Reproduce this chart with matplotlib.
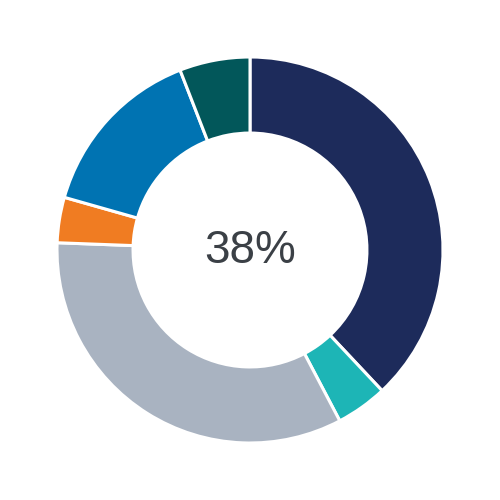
import matplotlib
matplotlib.use("Agg")
import matplotlib.pyplot as plt

# slice shares, clockwise from 12 o'clock
labels = ["navy", "teal", "gray", "orange", "blue", "dark teal"]
values = [38.0, 4.3, 33.3, 3.8, 14.7, 5.9]
colors = ["#1d2b5b", "#1db5b6", "#a9b3c1", "#f07c22", "#0073b2", "#02575a"]
center_label = "38%"

fig = plt.figure(figsize=(5, 5), dpi=100)
ax = fig.add_axes([0, 0, 1, 1])
ax.pie(values, colors=colors, startangle=90, counterclock=False,
       radius=1.0,
       wedgeprops=dict(width=0.394, edgecolor="white", linewidth=2.2))
lim = 250 / 193
ax.set_xlim(-lim, lim)
ax.set_ylim(-lim, lim)
ax.set_aspect("equal")
ax.axis("off")

ax.text(0, -0.005, center_label, ha="center", va="center",
        fontsize=33, color="#3b4046", family="Liberation Sans")

fig.savefig("out.png", dpi=100)
